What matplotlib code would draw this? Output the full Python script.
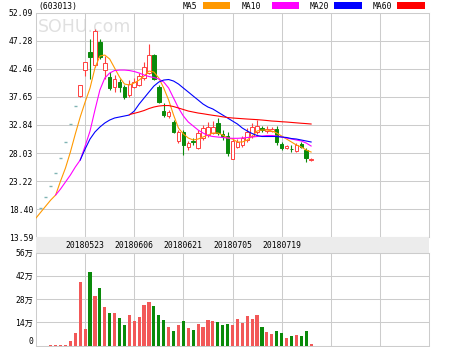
import matplotlib

matplotlib.use("Agg")

import matplotlib.pyplot as plt
import numpy as np
from matplotlib.patches import Rectangle

W, H = 474, 347

STOCK_LABEL = "(603013)"
PRICE_LABELS = ["13.59", "18.40", "23.22", "28.03", "32.84", "37.65", "42.46", "47.28", "52.09"]
VOL_TICKS = [0, 14, 28, 42, 56]
VOL_LABELS = ["0", "14万", "28万", "42万", "56万"]
DATE_DAYS = [10, 20, 30, 40, 50]
DATE_LABELS = ["20180523", "20180606", "20180621", "20180705", "20180719"]
SLOTS = 80  # trading-day slots across the panel

# daily bars, trading day 1..56 (days 1-8: one-price limit-up prints)
opens = [18.57, 20.50, 22.40, 24.60, 27.20, 29.90, 33.00, 36.10,
         37.80, 42.20, 45.40, 43.10, 47.00, 42.30, 41.10, 39.35, 40.25, 39.30, 38.00, 39.35,
         39.70, 40.90, 41.70, 44.80, 39.30, 35.20, 34.30, 33.40, 30.10, 31.60,
         29.00, 30.10, 28.90, 30.60, 31.10, 31.50, 33.20, 31.30, 30.95, 27.10,
         29.10, 29.40, 30.30, 30.95, 31.60, 32.30, 31.80, 31.80, 32.20, 29.60,
         28.90, 28.80, 28.40, 29.60, 28.55, 26.85]
highs = [18.57, 20.50, 22.40, 24.60, 27.20, 29.90, 33.00, 36.10,
         39.70, 43.70, 47.50, 49.20, 47.60, 44.60, 42.00, 41.40, 40.80, 39.70, 40.50, 40.90,
         41.70, 43.60, 46.70, 45.00, 39.70, 36.60, 35.40, 33.70, 32.00, 32.00,
         30.10, 30.60, 32.00, 32.80, 33.35, 33.50, 34.00, 32.00, 31.60, 30.60,
         30.40, 30.95, 32.30, 33.20, 33.70, 32.70, 32.70, 32.50, 32.70, 29.90,
         29.40, 29.40, 29.75, 29.90, 28.90, 27.20]
lows = [18.57, 20.50, 22.40, 24.60, 27.20, 29.90, 33.00, 36.10,
        37.60, 41.30, 40.80, 42.80, 44.20, 40.70, 38.90, 38.50, 38.50, 37.30, 37.70, 39.20,
        39.50, 40.50, 41.60, 40.50, 36.60, 34.20, 34.10, 31.50, 29.75, 27.70,
        28.55, 29.40, 28.70, 30.30, 30.80, 31.30, 31.10, 30.30, 27.50, 27.00,
        28.90, 29.10, 29.90, 30.60, 31.30, 31.60, 31.50, 31.60, 29.40, 28.55,
        28.70, 28.20, 28.20, 28.90, 26.50, 26.70]
closes = [18.57, 20.50, 22.40, 24.60, 27.20, 29.90, 33.00, 36.10,
          39.70, 43.70, 44.50, 49.00, 44.50, 43.40, 39.10, 40.70, 39.35, 37.70, 39.90, 40.25,
          41.20, 42.80, 44.80, 40.80, 36.80, 34.60, 35.10, 31.70, 31.60, 29.40,
          29.70, 29.85, 31.50, 32.30, 32.55, 32.50, 31.50, 30.95, 28.00, 30.10,
          29.90, 30.60, 31.60, 32.50, 32.70, 32.00, 32.20, 32.15, 29.90, 28.90,
          29.20, 28.65, 29.40, 29.15, 27.20, 27.10]
volumes = [0, 0, 0.4, 0.4, 0.4, 0.4, 2.8, 7.5,  # 万
           38.2, 9.9, 44.4, 29.7, 34.7, 23.2, 19.6, 19.6, 16.8, 12.3, 18.6, 15.0,
           17.0, 24.6, 26.3, 23.8, 18.6, 15.4, 10.9, 8.5, 12.3, 14.7,
           10.5, 9.1, 12.7, 11.3, 15.2, 14.7, 14.1, 12.3, 12.9, 12.3,
           16.2, 13.7, 17.6, 16.2, 18.6, 11.3, 8.1, 7.1, 8.7, 7.5,
           4.6, 5.7, 6.3, 5.7, 8.7, 0.8]

# moving averages as drawn, each starting at its own slot
MA5_FROM = 0
ma5 = [16.91, 17.94, 18.97, 19.99, 20.85, 23.25, 25.47, 28.21, 31.30, 34.21,
       36.77, 39.17, 42.60, 44.65, 44.82, 44.14, 42.60, 41.06, 39.86, 39.69,
       40.03, 40.54, 41.23, 42.08, 41.91, 40.88, 39.17, 37.12, 34.55, 32.32,
       31.30, 30.61, 30.27, 30.44, 30.78, 31.12, 31.47, 31.47, 31.12, 30.61,
       30.44, 29.93, 29.93, 30.27, 30.95, 31.81, 31.98, 31.98, 31.81, 31.47,
       30.95, 30.44, 29.93, 29.41, 29.07, 28.56, 28.21]
MA10_FROM = 4
ma10 = [20.85, 21.88, 23.08, 24.27, 25.64, 26.84, 29.24, 31.81, 35.41, 38.83,
        40.88, 41.74, 42.17, 42.25, 42.25, 42.17, 42.00, 41.74, 41.40, 41.14,
        40.97, 40.71, 40.20, 39.17, 37.46, 35.75, 34.38, 33.35, 32.67, 31.98,
        31.47, 31.04, 30.87, 30.78, 30.70, 30.61, 30.56, 30.56, 30.61, 30.70,
        30.78, 30.87, 30.95, 31.04, 31.04, 30.95, 30.78, 30.61, 30.44, 30.27,
        30.10, 29.75, 29.24]
MA20_FROM = 9
ma20 = [26.84, 28.73, 30.44, 31.64, 32.49, 33.18, 33.69, 34.04, 34.21, 34.38,
        34.55, 35.23, 36.43, 37.46, 38.49, 39.51, 40.20, 40.54, 40.63, 40.37,
        39.86, 39.17, 38.49, 37.80, 37.12, 36.43, 35.92, 35.58, 35.06, 34.55,
        34.04, 33.52, 33.01, 32.32, 31.81, 31.38, 31.04, 30.87, 30.87, 30.87,
        30.87, 30.78, 30.70, 30.52, 30.44, 30.27, 30.10, 29.93]
MA60_FROM = 19
ma60 = [34.63, 34.84, 35.06, 35.32, 35.66, 35.92, 36.09, 36.17, 36.17, 36.00,
        35.75, 35.49, 35.23, 35.06, 34.89, 34.77, 34.63, 34.50, 34.38, 34.24,
        34.12, 34.04, 33.98, 33.92, 33.86, 33.81, 33.76, 33.69, 33.61, 33.52,
        33.47, 33.40, 33.35, 33.28, 33.21, 33.14, 33.08, 33.01]

MA_NAMES = ["MA5", "MA10", "MA20", "MA60"]
MA_COLORS = ["#ff9900", "#ff00ff", "#0000ff", "#ff0000"]

UP = "#ff4040"
DOWN = "#0a8a0a"
VOL_UP = "#f25858"
FLAT = "#80b4b4"
GRID = "#cccccc"
MONO = "DejaVu Sans Mono"
CJK = [MONO, "Noto Sans CJK SC"]
FS = 5.8


def px_axes(fig, left, top, right, bottom, **kw):
    return fig.add_axes([left / W, 1 - bottom / H, (right - left) / W, (bottom - top) / H], **kw)


def style_panel(ax):
    ax.set_xlim(0, SLOTS)
    ax.set_xticks(range(10, SLOTS, 10))
    ax.tick_params(length=0, labelbottom=False, pad=2)
    ax.grid(True, color=GRID, linewidth=0.75)
    ax.set_axisbelow(True)
    for s in ax.spines.values():
        s.set_color(GRID)
        s.set_linewidth(0.75)


fig = plt.figure(figsize=(W / 100, H / 100), dpi=100)

# ── price panel ──
ax = px_axes(fig, 36, 12.6, 429, 237.4)
style_panel(ax)
price_ticks = [float(s) for s in PRICE_LABELS]
ax.set_ylim(price_ticks[0], price_ticks[-1])
ax.set_yticks(price_ticks)
ax.set_yticklabels(PRICE_LABELS, family=MONO, fontsize=FS)
ax.text(0.004, 0.935, "SOHU.com", transform=ax.transAxes, color="#e0e0e0",
        fontsize=12.5, va="center", ha="left", zorder=0)

days = np.arange(1, len(opens) + 1)
o, h, l, c = (np.array(v) for v in (opens, highs, lows, closes))
up = c >= o
flat = h == l
body = ~flat
edge = np.where(up, UP, DOWN)
fill = np.where(up, "white", DOWN)

ax.hlines(c[flat], days[flat] - 0.3, days[flat] + 0.3, colors=FLAT, linewidth=1, zorder=3)
ax.vlines(days[body], l[body], h[body], colors=list(edge[body]), linewidth=0.8, zorder=2)
ax.bar(days[body], np.maximum(np.abs(c - o), 0.08)[body], bottom=np.minimum(o, c)[body],
       width=0.72, color=list(fill[body]), edgecolor=list(edge[body]), linewidth=0.7, zorder=3)

for vals, start, color in zip([ma5, ma10, ma20, ma60], [MA5_FROM, MA10_FROM, MA20_FROM, MA60_FROM], MA_COLORS):
    ax.plot(np.arange(start, start + len(vals)), vals, color=color, linewidth=0.8, zorder=4)

# ── date strip ──
axd = px_axes(fig, 36, 237.4, 429, 252.7, facecolor="#ececec")
axd.set_xlim(0, SLOTS)
axd.set_ylim(0, 1)
axd.set_xticks([])
axd.set_yticks([])
for s in axd.spines.values():
    s.set_visible(False)
for d, lab in zip(DATE_DAYS, DATE_LABELS):
    axd.text(d, 0.45, lab, ha="center", va="center", family=MONO, fontsize=FS)

# ── volume panel ──
axv = px_axes(fig, 36, 252.7, 429, 345.5)
style_panel(axv)
axv.set_ylim(VOL_TICKS[0], VOL_TICKS[-1])
axv.set_yticks(VOL_TICKS)
axv.set_yticklabels(VOL_LABELS, family=CJK, fontsize=FS)
axv.get_yticklabels()[0].set_va("bottom")
axv.bar(days, volumes, width=0.65, color=list(np.where(up, VOL_UP, DOWN)), zorder=3)

# ── header: code + MA legend ──
ov = fig.add_axes([0, 0, 1, 1], facecolor="none")
ov.set_xlim(0, W)
ov.set_ylim(H, 0)
ov.axis("off")
ov.text(38, 6, STOCK_LABEL, va="center", ha="left", family=MONO, fontsize=FS)
for name, color, tx, sx in zip(MA_NAMES, MA_COLORS, [182.3, 241.3, 309.3, 372.3], [202.7, 271.7, 334.3, 397.3]):
    ov.text(tx, 6, name, va="center", ha="left", family=MONO, fontsize=FS)
    ov.add_patch(Rectangle((sx, 1.7), 27.5, 7.3, color=color, linewidth=0))

fig.savefig("out.png", dpi=100)
